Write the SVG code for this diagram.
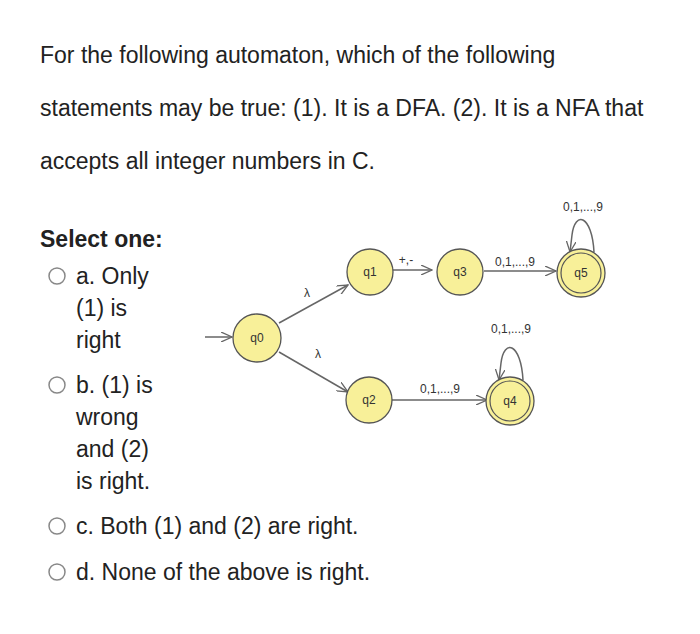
<svg xmlns="http://www.w3.org/2000/svg" width="700" height="634" viewBox="0 0 700 634">
<defs>
<marker id="ar" markerWidth="12" markerHeight="10" refX="11" refY="5" orient="auto" markerUnits="userSpaceOnUse"><path d="M0,0 L11,5 L0,10" fill="none" stroke="#666" stroke-width="1.3"/></marker>
</defs>
<style>
.t{font-family:"Liberation Sans",Arial,sans-serif;font-size:23px;fill:#222}
.b{font-weight:bold}
.r{fill:none;stroke:#888;stroke-width:1.5}
.st{fill:#f8f099;stroke:#555;stroke-width:1.3}
.sl{font-family:"Liberation Sans",Arial,sans-serif;font-size:12px;fill:#333;text-anchor:middle}
.e{fill:none;stroke:#666;stroke-width:1.5;marker-end:url(#ar)}
</style>
<rect width="700" height="634" fill="#fff"/>
<text class="t" x="40" y="63">For the following automaton, which of the following</text>
<text class="t" x="40" y="116">statements may be true: (1). It is a DFA. (2). It is a NFA that</text>
<text class="t" x="40" y="169">accepts all integer numbers in C.</text>
<text class="t b" x="40" y="247">Select one:</text>
<circle class="r" cx="57" cy="276" r="8"/>
<text class="t" x="76" y="284">a. Only</text>
<text class="t" x="76" y="316">(1) is</text>
<text class="t" x="76" y="348">right</text>
<circle class="r" cx="57" cy="385" r="8"/>
<text class="t" x="76" y="393">b. (1) is</text>
<text class="t" x="76" y="425">wrong</text>
<text class="t" x="76" y="457">and (2)</text>
<text class="t" x="76" y="489">is right.</text>
<circle class="r" cx="57" cy="526" r="8"/>
<text class="t" x="76" y="534">c. Both (1) and (2) are right.</text>
<circle class="r" cx="57" cy="572" r="8"/>
<text class="t" x="76" y="580">d. None of the above is right.</text>
<g id="connectors">
<line class="e" x1="205" y1="337" x2="232" y2="337"/>
<line class="e" x1="279" y1="323" x2="348" y2="285"/>
<line class="e" x1="279" y1="352" x2="348" y2="392"/>
<line class="e" x1="393" y1="270" x2="432" y2="270"/>
<line class="e" x1="484" y1="271" x2="556" y2="271"/>
<line class="e" x1="391" y1="400" x2="487" y2="400"/>
<path class="e" d="M594,252 C592,215 575,210 572,235 L570,252"/>
<path class="e" d="M523,380 C521,343 504,338 501,363 L499,380"/>
<text class="sl" x="406" y="264">+,-</text>
<text class="sl" x="515" y="266">0,1,...,9</text>
<text class="sl" x="440" y="393">0,1,...,9</text>
<text class="sl" x="583" y="211">0,1,...,9</text>
<text class="sl" x="511" y="333">0,1,...,9</text>
<text class="sl" x="307" y="297">λ</text>
<text class="sl" x="318" y="358">λ</text>
</g>
<g id="q0"><circle class="st" cx="257" cy="338" r="24"/><text class="sl" x="257" y="342">q0</text></g>
<g id="q1"><circle class="st" cx="370" cy="272" r="23"/><text class="sl" x="370" y="276">q1</text></g>
<g id="q3"><circle class="st" cx="460" cy="272" r="23"/><text class="sl" x="460" y="276">q3</text></g>
<g id="q5"><circle class="st" cx="581" cy="273" r="24"/><circle fill="none" stroke="#555" stroke-width="1.2" cx="581" cy="273" r="20"/><text class="sl" x="581" y="277">q5</text></g>
<g id="q2"><circle class="st" cx="369" cy="400" r="23"/><text class="sl" x="369" y="404">q2</text></g>
<g id="q4"><circle class="st" cx="510" cy="401" r="24"/><circle fill="none" stroke="#555" stroke-width="1.2" cx="510" cy="401" r="20"/><text class="sl" x="510" y="405">q4</text></g>
</svg>
